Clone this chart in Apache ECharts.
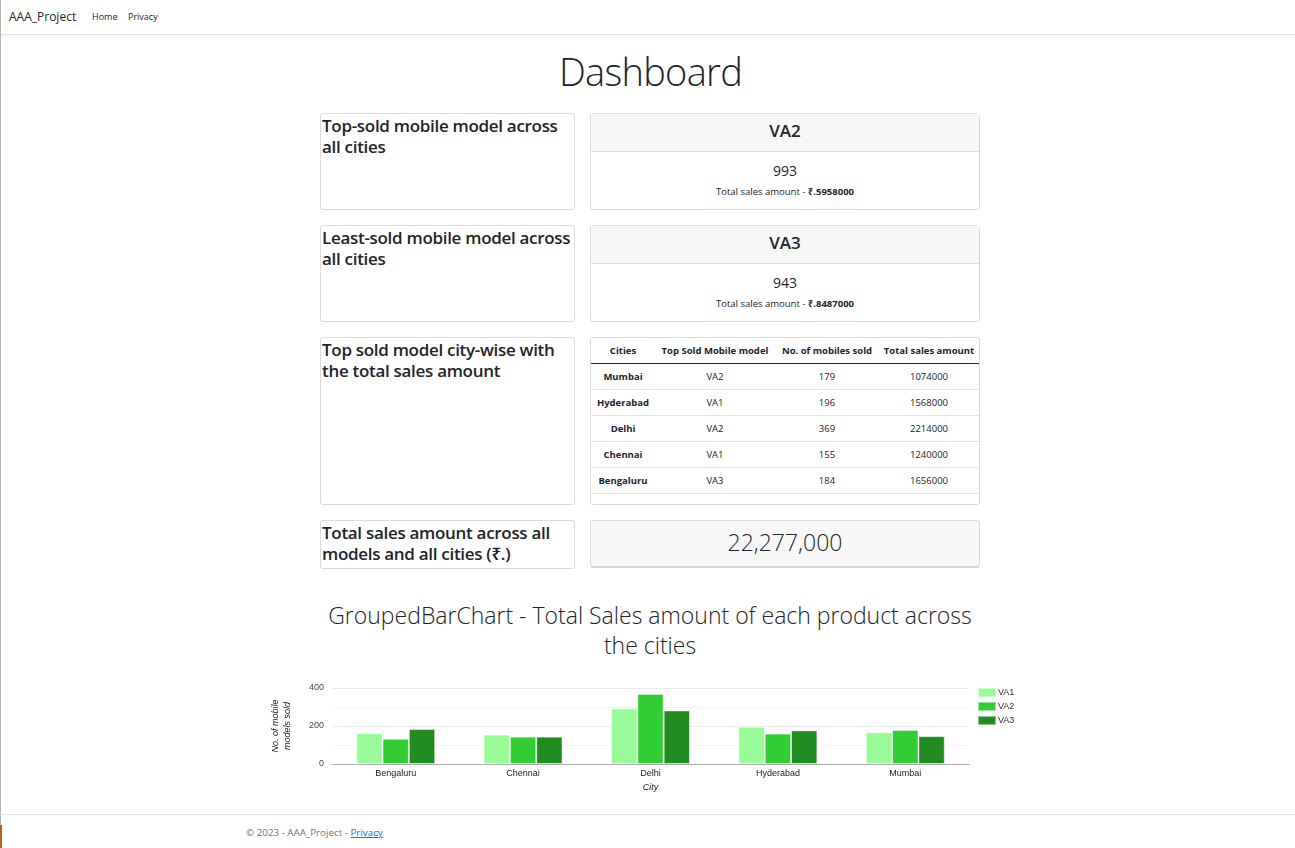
<!DOCTYPE html>
<html>
<head>
<meta charset="utf-8">
<title>Dashboard</title>
<script src="https://cdn.jsdelivr.net/npm/echarts@6/dist/echarts.min.js"></script>
<style>
  html, body { margin: 0; height: 100%; background: #fff; overflow: hidden; }
  body { font-family: "Open Sans", "Noto Sans", sans-serif; color: #212529; }
  .abs { position: absolute; box-sizing: border-box; }
  .box { border: 1px solid #dcdcdc; border-radius: 3px; background: #fff; }
  .lbl { font-size: 17px; font-weight: 600; line-height: 21px; padding: 1px 1px; letter-spacing: -0.3px; white-space: nowrap; }
  .head { background: #f7f7f7; border-bottom: 1px solid #dcdcdc; text-align: center; font-size: 17px; font-weight: 600; }
  .count { text-align: center; font-size: 14px; margin-top: 9px; line-height: 20px; font-weight: 500; }
  .amount { text-align: center; font-size: 9.5px; line-height: 22px; }
  table { border-collapse: collapse; table-layout: fixed; width: 388px; font-size: 9.5px; text-align: center; }
  th { font-weight: 700; height: 25px; padding: 0; border-bottom: 1px solid #212529; white-space: nowrap; }
  td { height: 25px; padding: 0; border-bottom: 1px solid #dee2e6; }
  td:first-child { font-weight: 700; }
</style>
</head>
<body>
<div class="abs" style="left:0;top:0;width:1295px;height:35px;border-bottom:1px solid #e0e0e6;box-shadow:0 2px 4px rgba(0,0,0,.05)"></div>
<div class="abs" style="left:0;top:0;width:1px;height:825px;background:#b4b4b4"></div>
<div class="abs" style="left:0;top:825px;width:2px;height:23px;background:#b5651d"></div>
<div class="abs" style="left:9px;top:8px;font-size:12px">AAA_Project</div>
<div class="abs" style="left:92px;top:10px;font-size:9px">Home</div>
<div class="abs" style="left:128px;top:10px;font-size:9px">Privacy</div>
<div class="abs" style="left:0;top:46px;width:1301px;text-align:center;font-size:38px;font-weight:300;line-height:50px;letter-spacing:-0.7px">Dashboard</div>

<div class="abs box lbl" style="left:320px;top:113px;width:255px;height:97px">Top-sold mobile model across<br>all cities</div>
<div class="abs box" style="left:590px;top:113px;width:390px;height:97px">
  <div class="head" style="height:37px;line-height:34px" id="top-name"></div>
  <div class="count" id="top-count"></div>
  <div class="amount" id="top-amount"></div>
</div>

<div class="abs box lbl" style="left:320px;top:225px;width:255px;height:97px">Least-sold mobile model across<br>all cities</div>
<div class="abs box" style="left:590px;top:225px;width:390px;height:97px">
  <div class="head" style="height:37px;line-height:34px" id="least-name"></div>
  <div class="count" id="least-count"></div>
  <div class="amount" id="least-amount"></div>
</div>

<div class="abs box lbl" style="left:320px;top:337px;width:255px;height:168px">Top sold model city-wise with<br>the total sales amount</div>
<div class="abs box" style="left:590px;top:337px;width:390px;height:168px;overflow:hidden">
  <table id="city-table"></table>
</div>

<div class="abs box lbl" style="left:320px;top:520px;width:255px;height:49px">Total sales amount across all<br>models and all cities (₹.)</div>
<div class="abs box" id="grand-total" style="left:590px;top:520px;width:390px;height:48px;background:#f7f7f7;text-align:center;font-size:23px;font-weight:300;line-height:43px;border-bottom:2px solid #d4d4d4"></div>

<div class="abs" style="left:300px;top:600px;width:700px;text-align:center;font-size:23px;font-weight:300;line-height:30px">GroupedBarChart - Total Sales amount of each product across<br>the cities</div>

<div class="abs" id="main" style="left:260px;top:675px;width:780px;height:120px"></div>

<div class="abs" style="left:0;top:814px;width:1295px;border-top:1px solid #e0e0e6"></div>
<div class="abs" style="left:246px;top:826px;font-size:9.8px;color:#6c757d">© 2023 - AAA_Project - <a href="#" style="color:#0d6efd">Privacy</a></div>

<script>
var cities = ['Bengaluru', 'Chennai', 'Delhi', 'Hyderabad', 'Mumbai'];
var va1 = [163, 155, 293, 196, 167];
var va2 = [133, 144, 369, 160, 179];
var va3 = [184, 144, 282, 177, 147];
var seriesNames = ['VA1', 'VA2', 'VA3'];
var colorPalette = ['#98fb98', '#32cd32', '#228b22'];

var tableHeaders = ['Cities', 'Top Sold Mobile model', 'No. of mobiles sold', 'Total sales amount'];
var tableWidths = [64, 120, 104, 100];
var tableCities = ['Mumbai', 'Hyderabad', 'Delhi', 'Chennai', 'Bengaluru'];
var tableModels = ['VA2', 'VA1', 'VA2', 'VA1', 'VA3'];
var tableCounts = [179, 196, 369, 155, 184];
var tableAmounts = [1074000, 1568000, 2214000, 1240000, 1656000];

var topSold = ['VA2', '993', '5958000'];
var leastSold = ['VA3', '943', '8487000'];
var grandTotal = '22,277,000';

function fillCard(prefix, card) {
  document.getElementById(prefix + '-name').textContent = card[0];
  document.getElementById(prefix + '-count').textContent = card[1];
  document.getElementById(prefix + '-amount').innerHTML = 'Total sales amount - <b>₹.' + card[2] + '</b>';
}
fillCard('top', topSold);
fillCard('least', leastSold);
document.getElementById('grand-total').textContent = grandTotal;

var rows = '<tr>' + tableHeaders.map(function (h, i) { return '<th style="width:' + tableWidths[i] + 'px">' + h + '</th>'; }).join('') + '</tr>';
tableCities.forEach(function (c, i) {
  rows += '<tr><td>' + c + '</td><td>' + tableModels[i] + '</td><td>' + tableCounts[i] + '</td><td>' + tableAmounts[i] + '</td></tr>';
});
document.getElementById('city-table').innerHTML = rows;

var myChart = echarts.init(document.getElementById('main'));
var values = [va1, va2, va3];
var textFont = 'Liberation Sans';

var option = {
  animation: false,
  grid: { left: 72, right: 71, top: 13, bottom: 31, outerBoundsMode: 'none' },
  legend: {
    orient: 'vertical',
    left: 712,
    top: 7,
    itemWidth: 18,
    itemHeight: 9,
    itemGap: 3,
    icon: 'rect',
    selectedMode: false,
    textStyle: { fontFamily: textFont, fontSize: 9, color: '#333', padding: [0, 0, 0, -3] }
  },
  xAxis: {
    type: 'category',
    data: cities,
    name: 'City',
    nameLocation: 'middle',
    nameGap: 11,
    nameTextStyle: { fontFamily: textFont, fontSize: 9, fontStyle: 'italic', color: '#222' },
    axisTick: { show: false },
    axisLine: { lineStyle: { color: '#aaa', width: 1 } },
    axisLabel: { fontFamily: textFont, fontSize: 9, color: '#222', margin: 5 }
  },
  yAxis: {
    type: 'value',
    min: 0,
    max: 400,
    interval: 200,
    name: 'No. of mobile\nmodels sold',
    nameLocation: 'middle',
    nameGap: 39,
    nameTextStyle: { fontFamily: textFont, fontSize: 9, fontStyle: 'italic', color: '#222', lineHeight: 12 },
    axisLine: { show: false },
    axisTick: { show: false },
    axisLabel: { fontFamily: textFont, fontSize: 9, color: '#444', margin: 8 },
    splitLine: { lineStyle: { color: '#ebebeb' } },
    minorTick: { show: false, splitNumber: 2 },
    minorSplitLine: { show: true, lineStyle: { color: '#f4f4f4' } }
  },
  series: seriesNames.map(function (name, i) {
    return {
      name: name,
      type: 'bar',
      data: values[i],
      barGap: 0,
      barCategoryGap: '38%',
      itemStyle: { color: colorPalette[i], borderColor: 'rgba(255,255,255,0.5)', borderWidth: 1 }
    };
  })
};

option && myChart.setOption(option);
</script>
</body>
</html>
